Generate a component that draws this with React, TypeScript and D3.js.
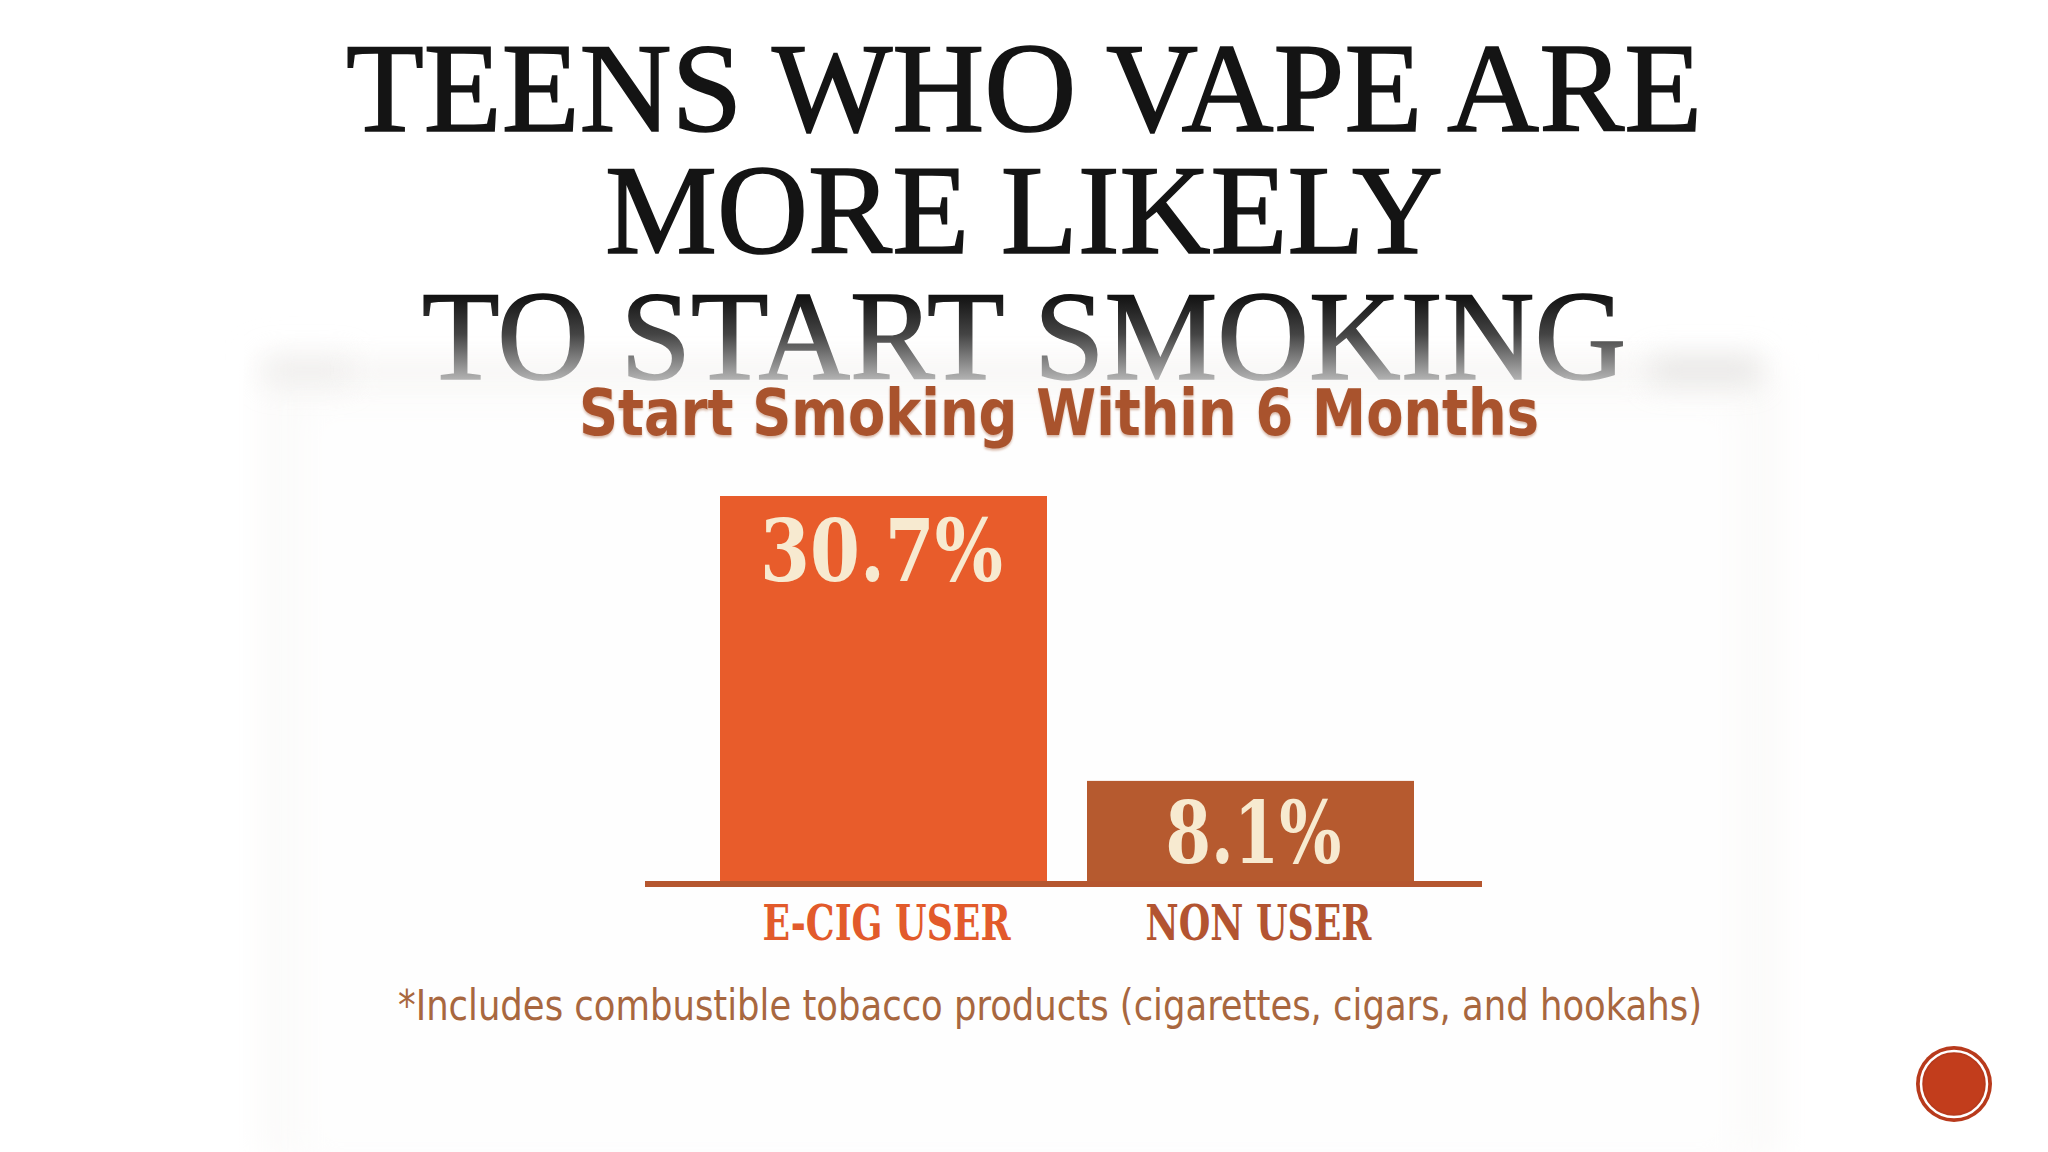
import React from "react";
import * as d3 from "d3";

const titleLines = ["TEENS WHO VAPE ARE", "MORE LIKELY", "TO START SMOKING"];
const subtitle = "Start Smoking Within 6 Months";
const categories = ["E-CIG USER", "NON USER"];
const values = [30.7, 8.1];
const valueLabels = ["30.7%", "8.1%"];
const footnote = "*Includes combustible tobacco products (cigarettes, cigars, and hookahs)";

const W = 2048;
const H = 1152;

const barColors = ["#e85c2b", "#b65a2f"];
const catColors = ["#e25a2b", "#b35431"];

export default function App() {
  const x = d3
    .scaleBand<string>()
    .domain(categories)
    .range([720, 1414])
    .paddingInner(40 / 367)
    .paddingOuter(0);
  const y = d3.scaleLinear().domain([0, d3.max(values) as number]).range([883, 496]);

  const titleLayout = [
    { cx: 1024, y: 131, w: 1356 },
    { cx: 1024, y: 253, w: 838 },
    { cx: 1024, y: 379, w: 1204 },
  ];
  const catWidths = [248, 226];
  const valWidths = [243, 176];

  return (
    <svg
      width={W}
      height={H}
      viewBox={`0 0 ${W} ${H}`}
      style={{ position: "absolute", left: 0, top: 0, background: "#ffffff" }}
    >
      <defs>
        <filter id="soft" x="-20%" y="-20%" width="140%" height="140%">
          <feGaussianBlur stdDeviation="18" />
        </filter>
        <filter id="haze" x="-20%" y="-200%" width="140%" height="500%">
          <feGaussianBlur stdDeviation="14" />
        </filter>
        <filter id="tshadow" x="-5%" y="-20%" width="110%" height="140%">
          <feGaussianBlur stdDeviation="1.2" />
        </filter>
        <linearGradient id="fade" gradientUnits="userSpaceOnUse" x1="0" y1="295" x2="0" y2="382">
          <stop offset="0" stopColor="#111" />
          <stop offset="0.45" stopColor="#444" />
          <stop offset="1" stopColor="#b8b8b8" />
        </linearGradient>
      </defs>

      <rect x={0} y={0} width={W} height={H} fill="#ffffff" />
      {/* faint pasted image panel */}
      <rect x={262} y={360} width={1520} height={800} fill="#fbfaf9" filter="url(#soft)" />
      <rect x={300} y={400} width={1440} height={760} fill="#fefefe" filter="url(#soft)" />
      <rect x={262} y={355} width={90} height={30} fill="#e4e2e0" opacity={0.5} filter="url(#haze)" />
      <rect x={1650} y={355} width={110} height={30} fill="#dcdad8" opacity={0.6} filter="url(#haze)" />
      <rect x={350} y={360} width={1300} height={20} fill="#efedeb" opacity={0.4} filter="url(#haze)" />

      {/* title */}
      {titleLines.map((t, i) => (
        <text
          key={t}
          x={titleLayout[i].cx}
          y={titleLayout[i].y}
          textAnchor="middle"
          textLength={titleLayout[i].w}
          lengthAdjust="spacingAndGlyphs"
          fontFamily="'Liberation Serif', 'DejaVu Serif', serif"
          fontSize={128}
          fill={i === 2 ? "url(#fade)" : "#141414"}
          stroke={i === 2 ? "url(#fade)" : "#141414"}
          strokeWidth={1.6}
        >
          {t}
        </text>
      ))}

      {/* subtitle */}
      <text
        x={1059}
        y={437}
        textAnchor="middle"
        textLength={960}
        lengthAdjust="spacingAndGlyphs"
        fontFamily="'DejaVu Sans Condensed', 'DejaVu Sans', sans-serif"
        fontStretch="condensed"
        fontWeight="bold"
        fontSize={64}
        fill="#d8b8a8"
        filter="url(#tshadow)"
      >
        {subtitle}
      </text>
      <text
        x={1059}
        y={435}
        textAnchor="middle"
        textLength={960}
        lengthAdjust="spacingAndGlyphs"
        fontFamily="'DejaVu Sans Condensed', 'DejaVu Sans', sans-serif"
        fontStretch="condensed"
        fontWeight="bold"
        fontSize={64}
        fill="#a9532d"
      >
        {subtitle}
      </text>

      {/* bars */}
      {categories.map((c, i) => (
        <rect
          key={c}
          x={x(c)}
          y={y(values[i])}
          width={x.bandwidth()}
          height={y(0) - y(values[i])}
          fill={barColors[i]}
        />
      ))}

      {/* baseline */}
      <rect x={645} y={y(0) - 2} width={837} height={6} fill="#b5562f" />

      {/* value labels */}
      {categories.map((c, i) => (
        <text
          key={c + "v"}
          x={(x(c) as number) + x.bandwidth() / 2 + (i === 0 ? -2 : 3)}
          y={y(values[i]) + (i === 0 ? 85 : 82)}
          textAnchor="middle"
          textLength={valWidths[i]}
          lengthAdjust="spacingAndGlyphs"
          fontFamily="'DejaVu Serif Condensed', 'DejaVu Serif', serif"
          fontStretch="condensed"
          fontWeight="bold"
          fontSize={86}
          fill="#f7ead0"
        >
          {valueLabels[i]}
        </text>
      ))}

      {/* category labels */}
      {categories.map((c, i) => (
        <text
          key={c + "c"}
          x={(x(c) as number) + x.bandwidth() / 2 + (i === 0 ? 3 : 8)}
          y={940}
          textAnchor="middle"
          textLength={catWidths[i]}
          lengthAdjust="spacingAndGlyphs"
          fontFamily="'DejaVu Serif Condensed', 'DejaVu Serif', serif"
          fontStretch="condensed"
          fontWeight="bold"
          fontSize={49}
          fill={catColors[i]}
        >
          {c}
        </text>
      ))}

      {/* footnote */}
      <text
        x={1050}
        y={1020}
        textAnchor="middle"
        textLength={1304}
        lengthAdjust="spacingAndGlyphs"
        fontFamily="'DejaVu Sans Condensed', 'DejaVu Sans', sans-serif"
        fontStretch="condensed"
        fontSize={42}
        fill="#a8673f"
      >
        {footnote}
      </text>

      {/* slide button */}
      <circle cx={1954} cy={1084} r={38} fill="#b83a1c" />
      <circle cx={1954} cy={1084} r={33} fill="none" stroke="#ffffff" strokeWidth={2.5} />
      <circle cx={1954} cy={1084} r={30} fill="#c23d1c" />
    </svg>
  );
}
